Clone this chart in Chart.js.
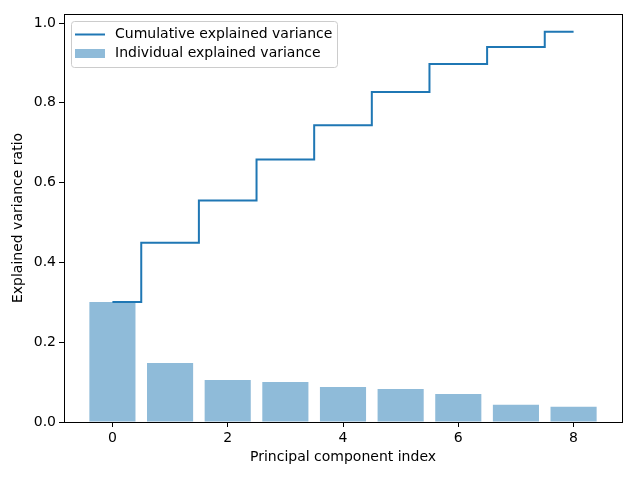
<!DOCTYPE html>
<html>
<head>
<meta charset="utf-8">
<script src="https://cdn.jsdelivr.net/npm/chart.js@4/dist/chart.umd.min.js"></script>
<style>
  html, body { margin: 0; padding: 0; background: #fff; }
  #wrap { width: 636px; height: 479px; }
</style>
</head>
<body>
<div id="wrap"><canvas id="pca"></canvas></div>
<script>
// values
var components = [0, 1, 2, 3, 4, 5, 6, 7, 8];
var individual = [0.301, 0.148, 0.105, 0.100, 0.088, 0.083, 0.070, 0.043, 0.038];
var cumulative = [0.301, 0.449, 0.555, 0.658, 0.744, 0.827, 0.897, 0.940, 0.978];
var xTicks = [0, 2, 4, 6, 8];
var yTicks = [0.0, 0.2, 0.4, 0.6, 0.8, 1.0];

var blue = '#1f77b4';
var barBlue = 'rgba(31,119,180,0.5)';
var font = 'DejaVu Sans';
var fontSize = 14;

function toPoints(ys) {
    return components.map(function(x, i) { return { x: x, y: ys[i] }; });
}

// frame round the plot area + legend in the upper left corner
var framePlugin = {
    id: 'frame',
    afterDraw: function(chart) {
        var ctx = chart.ctx;
        var a = chart.chartArea;
        ctx.save();
        ctx.strokeStyle = '#000';
        ctx.lineWidth = 1;
        ctx.strokeRect(Math.round(a.left) + 0.5, Math.round(a.top) + 0.5,
                       Math.round(a.right - a.left), Math.round(a.bottom - a.top));

        // legend
        var lx = 71, ly = a.top + 7;
        ctx.fillStyle = 'rgba(255,255,255,0.8)';
        ctx.strokeStyle = '#cccccc';
        ctx.beginPath();
        ctx.roundRect(lx + 0.5, ly + 0.5, 266, 46, 3);
        ctx.fill();
        ctx.stroke();

        ctx.strokeStyle = blue;
        ctx.lineWidth = 2;
        ctx.beginPath();
        ctx.moveTo(lx + 4, ly + 13.5);
        ctx.lineTo(lx + 34, ly + 13.5);
        ctx.stroke();

        ctx.fillStyle = barBlue;
        ctx.fillRect(lx + 4, ly + 28, 30, 9);

        ctx.fillStyle = '#000';
        ctx.font = fontSize + 'px "' + font + '"';
        ctx.textBaseline = 'middle';
        ctx.fillText(chart.data.datasets[0].label, lx + 44, ly + 13);
        ctx.fillText(chart.data.datasets[1].label, lx + 44, ly + 32);
        ctx.restore();
    }
};

var ctx = document.getElementById('pca');

var myChart = new Chart(ctx, {
    type: 'bar',
    data: {
        datasets: [
            {
                type: 'line',
                label: 'Cumulative explained variance',
                data: toPoints(cumulative),
                borderColor: blue,
                borderWidth: 2,
                pointRadius: 0,
                stepped: 'middle',
                fill: false,
                order: 0
            },
            {
                type: 'bar',
                label: 'Individual explained variance',
                data: toPoints(individual),
                backgroundColor: barBlue,
                borderWidth: 0,
                barPercentage: 0.8,
                categoryPercentage: 1.0,
                order: 1
            }
        ]
    },
    options: {
        responsive: true,
        maintainAspectRatio: false,
        animation: false,
        devicePixelRatio: 1,
        layout: { padding: { top: 14, right: 14, left: 0, bottom: 0 } },
        plugins: {
            legend: { display: false },
            tooltip: { enabled: false }
        },
        scales: {
            x: {
                type: 'linear',
                offset: false,
                min: -0.84,
                max: 8.84,
                afterBuildTicks: function(axis) {
                    axis.ticks = xTicks.map(function(v) { return { value: v }; });
                },
                afterFit: function(axis) { axis.height = 57; },
                grid: { display: true, offset: false, drawOnChartArea: false, tickLength: 5, tickColor: '#000' },
                border: { display: false },
                ticks: { color: '#000', padding: 3, maxRotation: 0, autoSkip: false, font: { family: font, size: fontSize } },
                title: {
                    display: true,
                    text: 'Principal component index',
                    color: '#000',
                    padding: { top: 2, bottom: 13 },
                    font: { family: font, size: fontSize }
                }
            },
            y: {
                min: 0,
                max: 1.0226,
                afterBuildTicks: function(axis) {
                    axis.ticks = yTicks.map(function(v) { return { value: v }; });
                },
                afterFit: function(axis) { axis.width = 64; },
                grid: { display: true, offset: false, drawOnChartArea: false, tickLength: 5, tickColor: '#000' },
                border: { display: false },
                ticks: {
                    color: '#000',
                    padding: 3,
                    font: { family: font, size: fontSize },
                    callback: function(v) { return v.toFixed(1); }
                },
                title: {
                    display: true,
                    text: 'Explained variance ratio',
                    color: '#000',
                    padding: { top: 10, bottom: 0 },
                    font: { family: font, size: fontSize }
                }
            }
        }
    },
    plugins: [framePlugin]
});
</script>
</body>
</html>
